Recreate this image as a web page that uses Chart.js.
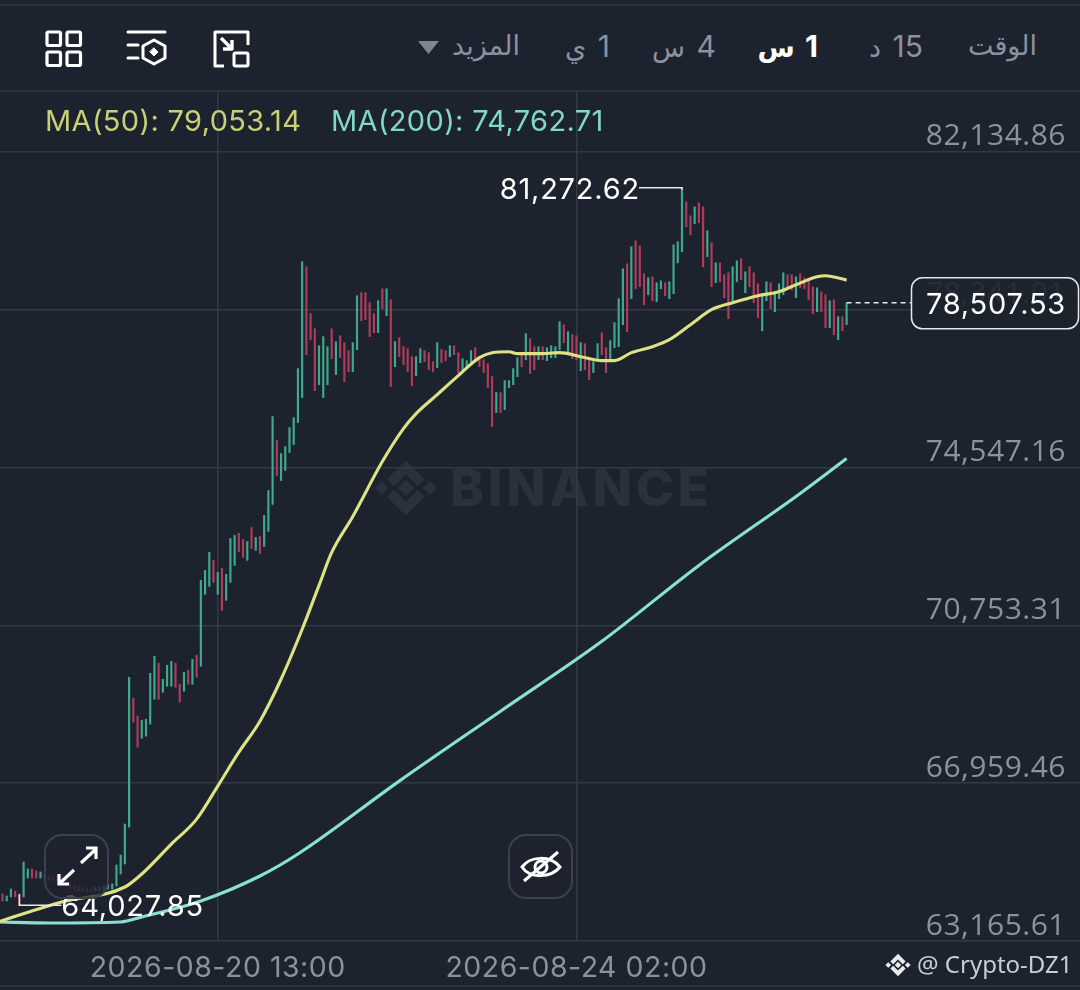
<!DOCTYPE html>
<html lang="ar">
<head>
<meta charset="utf-8">
<title>BTC 1h</title>
<script src="https://cdn.jsdelivr.net/npm/chart.js@4"></script>
<style>
  html, body { margin: 0; padding: 0; background: #1d232e; }
  #page { position: relative; width: 1080px; height: 990px; overflow: hidden; background: #1d232e; font-family: Inter, "DejaVu Sans", sans-serif; }
  #chart { position: absolute; left: 0; top: 0; z-index: 1; }
  .rule { position: absolute; left: 0; width: 1080px; height: 2px; background: #2b323e; }
  .tf { position: absolute; top: 28px; font-size: 27px; line-height: 36px; word-spacing: 4px; color: #8b929d; white-space: nowrap; }
  .tf b { font-size: 30px; font-weight: 400; }
  .tf.on { color: #fff; font-weight: 700; }
  .tf.on b { font-weight: 700; }
  .ma { position: absolute; top: 104px; font-size: 29px; line-height: 34px; letter-spacing: .35px; white-space: nowrap; }
  .icon { position: absolute; z-index: 3; }
  .float-btn { position: absolute; top: 834px; width: 61px; height: 61px; border: 2px solid #3a414c; border-radius: 18px; background: rgba(29,35,46,.78); z-index: 3; }
  #wm { position: absolute; left: 450px; top: 455px; font-size: 51px; line-height: 66px; font-weight: 800; letter-spacing: 4px; color: #2a313d; z-index: 0; }
  #credit { position: absolute; left: 917px; top: 947px; font-family: "Noto Sans", sans-serif; font-size: 24px; line-height: 34px; color: #c9cdd3; white-space: nowrap; z-index: 3; }
</style>
</head>
<body>
<div id="page">
  <svg width="0" height="0" style="position:absolute">
    <symbol id="bn" viewBox="0 0 126 126">
      <path d="M63 49.5L76.5 63 63 76.5 49.5 63Z M63 16L95 48 83 60 63 40 43 60 31 48Z M63 110L95 78 83 66 63 86 43 66 31 78Z M22 51L34 63 22 75 10 63Z M104 51L116 63 104 75 92 63Z"/>
    </symbol>
  </svg>

  <div class="rule" style="top:4px"></div>
  <div class="rule" style="top:90px"></div>
  <div class="rule" style="top:985px"></div>

  <svg class="icon" style="left:44px;top:29px" width="42" height="40" fill="none" stroke="#fff" stroke-width="3.2" stroke-linejoin="round">
    <rect x="3" y="3" width="13.5" height="13.5" rx="1.5"/><rect x="23" y="3" width="13.5" height="13.5" rx="1.5"/>
    <rect x="3" y="23" width="13.5" height="13.5" rx="1.5"/><rect x="23" y="23" width="13.5" height="13.5" rx="1.5"/>
  </svg>
  <svg class="icon" style="left:126px;top:29px" width="44" height="40" fill="none" stroke="#fff" stroke-width="3" stroke-linecap="round" stroke-linejoin="round">
    <path d="M2 3H39 M2 16H12 M2 29H12"/>
    <path d="M28 11L39 17V29L28 35 17 29V17Z"/>
    <path d="M28 19L32 23 28 27 24 23Z" fill="#fff" stroke-width="1"/>
  </svg>
  <svg class="icon" style="left:212px;top:29px" width="40" height="40" fill="none" stroke="#fff" stroke-width="3" stroke-linejoin="round">
    <path d="M12 37H3V3H36V16"/>
    <rect x="22" y="24" width="14" height="13" rx="1.5"/>
    <path d="M9 9L20 20 M20 11V20H11" stroke-width="3.4"/>
  </svg>

  <div class="tf" dir="rtl" style="right:43px">الوقت</div>
  <div class="tf" dir="rtl" style="right:157px"><b>15</b> د</div>
  <div class="tf on" dir="rtl" style="right:262px"><b>1</b> س</div>
  <div class="tf" dir="rtl" style="right:364px"><b>4</b> س</div>
  <div class="tf" dir="rtl" style="right:470px"><b>1</b> ي</div>
  <div class="tf" dir="rtl" style="right:560px">المزيد</div>
  <svg class="icon" style="left:418px;top:41px" width="21" height="13"><path d="M0 0H21L10.5 13Z" fill="#7f8691"/></svg>

  <div class="ma" style="left:45px;color:#c9cf74;z-index:2">MA(50): 79,053.14</div>
  <div class="ma" style="left:331px;color:#7fd9c6;z-index:2">MA(200): 74,762.71</div>

  <svg style="position:absolute;left:369px;top:451px;z-index:0" width="74" height="74" fill="#2a313d"><use href="#bn"/></svg>
  <div id="wm">BINANCE</div>

  <canvas id="chart" width="1080" height="990"></canvas>

  <div class="float-btn" style="left:44px">
    <svg width="61" height="61" fill="none" stroke="#fff" stroke-width="3.2">
      <path d="M13 48L28 34 M35 27L50 13 M40 12H50V23 M13 38V48H23"/>
    </svg>
  </div>
  <div class="float-btn" style="left:508px">
    <svg width="61" height="61" fill="none" stroke="#fff" stroke-width="3">
      <path d="M12 31C20 20 40 19 50 31C41 42 20 43 12 31Z"/>
      <circle cx="31" cy="31" r="6"/>
      <path d="M14 45L48 16"/>
    </svg>
  </div>

  <svg style="position:absolute;left:883px;top:950px;z-index:3" width="30" height="30" fill="#e9ebee"><use href="#bn"/></svg>
  <div id="credit">@ Crypto-DZ1</div>
</div>

<script>
  // hourly candles, high / low only (the bodies are too thin to see in the picture)
  const candleHighs = [
    64296,64248,64416,64368,64296,65064,64896,64896,64848,64824,
    64776,64704,64704,64728,64704,64656,64560,64512,64464,64440,
    64440,64440,64464,64464,64488,64536,64536,64992,65232,65977,
    69506,69002,68570,68474,68498,69602,70010,69842,69458,69794,
    69890,69842,69338,69626,69674,69938,70034,71835,72075,72507,
    72315,72027,72123,71979,72843,72915,72964,72819,72771,73107,
    72867,72891,73396,73996,75773,75197,74885,75053,75509,75749,
    76925,79494,79374,78246,77885,77477,77694,77453,77885,77573,
    77717,77549,77357,77549,78678,78750,78750,78510,78246,78558,
    78846,78846,78582,77573,77669,77453,77405,77213,77213,77405,
    77357,77309,77093,77549,77381,77357,77477,77477,77309,77165,
    77117,77357,77429,77189,77141,77045,76733,76349,76349,76637,
    76637,76925,77189,77261,77766,77646,77453,77453,77453,77429,
    77477,77453,78054,77982,77814,77742,77717,77549,77525,77189,
    77093,77525,77790,77429,77597,78030,78606,79326,79446,79855,
    79999,79879,79206,79110,79134,78990,79038,78990,79014,79903,
    79975,81272.62,80935,80599,80815,80911,80815,80239,79951,79470,
    79470,79182,79230,79374,79518,79566,79254,79374,79230,78966,
    78702,79014,78990,78774,78966,79230,79182,79182,79134,79206,
    79110,79086,78894,78870,78774,78702,78558,78582,78174,78174,
    78507.53
  ]
  const candleLows = [
    64128,64128,64224,64224,64027.85,64224,64680,64680,64680,64680,
    64680,64632,64632,64632,64608,64560,64416,64392,64368,64368,
    64344,64344,64368,64368,64368,64416,64416,64488,64776,65016,
    65905,68426,67826,68041,68090,68378,68978,68978,69146,69290,
    69290,69266,68906,69170,69338,69338,69506,69770,71499,71691,
    71787,71499,71115,71355,71787,72195,72531,72387,72315,72603,
    72555,72483,72651,73012,73660,74356,74236,74476,74908,75101,
    75629,76229,77261,77621,76397,76541,76229,76541,77165,76781,
    77189,76613,76853,76853,77381,78078,78102,77694,77790,77790,
    78366,78198,76493,76973,77213,77021,76853,76517,76757,77069,
    77093,76901,76853,76949,77069,77117,77213,77261,76829,76901,
    76973,77045,77093,76973,76829,76469,75532,75869,75869,75941,
    76469,76541,76733,76973,77141,76805,76901,77141,77141,77117,
    77189,77189,77381,77549,77309,77165,77141,76877,76901,76661,
    76829,77141,77261,76829,77141,77429,77453,77982,77814,78606,
    78846,78894,78462,78702,78558,78534,78846,78678,78606,78726,
    79470,79735,80335,80143,80407,80431,79374,79614,78894,78990,
    79014,78630,78126,78510,79014,79062,78750,78894,78510,78150,
    77838,78558,78366,78294,78606,78702,78894,78822,78630,78870,
    78846,78582,78246,78294,78294,77910,77910,77742,77621,77838,
    77982
  ]
  // u = up candle, d = down candle
  const candleDirs = [
    'd','u','u','d','d','u','u','d','d','u',
    'd','d','d','d','d','d','d','d','d','d',
    'd','d','u','u','u','u','u','u','u','u',
    'u','d','d','u','u','u','u','d','u','u',
    'u','d','d','u','d','u','d','u','u','u',
    'd','u','d','u','u','u','d','d','u','d',
    'u','d','u','u','u','d','u','u','u','u',
    'u','u','d','d','d','u','u','u','d','u',
    'd','d','d','u','u','d','d','d','d','u',
    'd','u','d','u','d','d','d','d','u','u',
    'd','d','d','u','d','d','u','d','d','u',
    'u','u','d','d','d','d','d','u','d','u',
    'u','u','u','d','u','d','d','u','d','u',
    'u','u','u','d','u','d','d','u','d','d',
    'u','u','d','d','u','u','u','u','d','u',
    'd','d','d','u','d','u','u','d','u','u',
    'u','u','d','d','u','d','d','u','d','u',
    'd','d','d','u','u','d','u','d','d','d',
    'u','u','d','u','u','u','d','d','u','d',
    'd','d','d','u','d','d','u','d','u','d',
    'u'
  ]

  const ma50Hours = [-1,14,29,33,40,46,51,56,61,66,71,75,78,83,90,95,98,103,108,113,116,120,122,127,132,137,142,145,149,154,158,163,168,173,179,184,188,193,195,200]
  const ma50Values = [63624,64104,64464,64776,65496,66096,66889,67705,68450,69458,70659,71715,72507,73372,74692,75485,75845,76301,76757,77189,77309,77333,77285,77285,77309,77213,77117,77117,77309,77453,77621,77982,78342,78510,78678,78774,78942,79133,79158,79053.14]

  const ma200Hours = [-1,11,28,33,47,61,70,94,118,142,165,189,200]
  const ma200Values = [63624,63600,63624,63744,64128,64728,65257,67009,68690,70370,72195,73924,74762.71]

  const priceTicks = [63165.61, 66959.46, 70753.31, 74547.16, 78341.01, 82134.86]
  const timeTickHours = [51, 136]
  const timeTickLabels = ['2026-08-20 13:00', '2026-08-24 02:00']

  const highMark = { hour: 161, price: 81272.62 }
  const lowMark = { hour: 4, price: 64027.85 }
  const lastMark = { hour: 200, price: 78507.53 }

  const UP = '#3fa98f'
  const DOWN = '#b03c5c'
  const LABEL_FONT = '29px Inter, sans-serif'

  function money(v) {
    return v.toLocaleString('en-US', { minimumFractionDigits: 2, maximumFractionDigits: 2 })
  }

  function zip(xs, ys) {
    return xs.map((x, i) => ({ x: x, y: ys[i] }))
  }

  function roundBox(ctx, x, y, w, h, r) {
    ctx.beginPath()
    ctx.roundRect(x, y, w, h, r)
  }

  // high/low tags and the last price bubble
  const marksPlugin = {
    id: 'marks',
    beforeDraw(chart) {
      chart.ctx.letterSpacing = '0.5px'
    },
    afterDraw(chart) {
      const ctx = chart.ctx
      const xs = chart.scales.x
      const ys = chart.scales.y
      ctx.save()
      ctx.font = LABEL_FONT
      ctx.letterSpacing = '0.8px'
      ctx.textBaseline = 'middle'

      let x = xs.getPixelForValue(highMark.hour)
      let y = ys.getPixelForValue(highMark.price)
      ctx.strokeStyle = '#e6e8ea'
      ctx.lineWidth = 1.5
      ctx.beginPath()
      ctx.moveTo(x, y + 2)
      ctx.lineTo(x, y)
      ctx.lineTo(x - 43, y)
      ctx.stroke()
      ctx.fillStyle = '#fff'
      ctx.textAlign = 'right'
      ctx.fillText(money(highMark.price), x - 42, y + 2)

      x = xs.getPixelForValue(lowMark.hour)
      y = ys.getPixelForValue(lowMark.price)
      ctx.beginPath()
      ctx.moveTo(x, y - 11)
      ctx.lineTo(x, y)
      ctx.lineTo(x + 42, y)
      ctx.stroke()
      ctx.textAlign = 'left'
      ctx.fillText(money(lowMark.price), x + 42, y + 2)

      x = xs.getPixelForValue(lastMark.hour)
      y = ys.getPixelForValue(lastMark.price)
      ctx.setLineDash([5, 4])
      ctx.beginPath()
      ctx.moveTo(x, y)
      ctx.lineTo(911, y)
      ctx.stroke()
      ctx.setLineDash([])
      roundBox(ctx, 911.5, y - 25, 167, 51, 11)
      ctx.fillStyle = 'rgba(29,35,46,.9)'
      ctx.fill()
      ctx.strokeStyle = '#e6e8ea'
      ctx.stroke()
      ctx.fillStyle = '#fff'
      ctx.textAlign = 'center'
      ctx.fillText(money(lastMark.price), 996, y + 2)
      ctx.restore()
    }
  }

  new Chart(document.getElementById('chart').getContext('2d'), {
    type: 'bar',
    data: {
      datasets: [
        {
          type: 'line',
          data: zip(ma50Hours, ma50Values),
          borderColor: '#dde282',
          borderWidth: 3.1,
          pointRadius: 0,
          cubicInterpolationMode: 'monotone',
          order: 0
        },
        {
          type: 'line',
          data: zip(ma200Hours, ma200Values),
          borderColor: '#88e2d0',
          borderWidth: 3.1,
          pointRadius: 0,
          cubicInterpolationMode: 'monotone',
          order: 1
        },
        {
          type: 'bar',
          data: candleHighs.map((h, i) => ({ x: i, y: [candleLows[i], h] })),
          backgroundColor: candleDirs.map(d => d === 'u' ? UP : DOWN),
          barThickness: 1.5,
          borderSkipped: false,
          order: 2
        }
      ]
    },
    options: {
      responsive: false,
      animation: false,
      devicePixelRatio: 1,
      layout: { padding: { top: 92, left: 0, right: 0, bottom: 0 } },
      plugins: { legend: { display: false }, tooltip: { enabled: false } },
      scales: {
        x: {
          type: 'linear',
          offset: false,
          min: -0.59,
          max: 255.3,
          border: { display: false },
          grid: { offset: false, color: '#333a46', lineWidth: 1.5, drawTicks: false },
          afterBuildTicks: axis => { axis.ticks = timeTickHours.map(h => ({ value: h })) },
          afterFit: axis => { axis.height = 49 },
          ticks: {
            autoSkip: false,
            maxRotation: 0,
            padding: 10,
            color: '#8b929d',
            font: { family: 'Inter, sans-serif', size: 28.5 },
            callback: v => timeTickLabels[timeTickHours.indexOf(v)]
          }
        },
        y: {
          type: 'linear',
          position: 'right',
          min: 63165.61,
          max: 83575.6,
          border: { display: false },
          grid: { color: '#333a46', lineWidth: 1.5, drawTicks: false },
          afterBuildTicks: axis => { axis.ticks = priceTicks.map(p => ({ value: p })) },
          afterFit: axis => { axis.width = 0 },
          ticks: {
            autoSkip: false,
            mirror: true,
            padding: -14,
            labelOffset: -15,
            color: '#8b929d',
            font: { family: '"Open Sans", sans-serif', size: 30 },
            callback: v => money(v)
          }
        }
      }
    },
    plugins: [marksPlugin]
  })
</script>
</body>
</html>
